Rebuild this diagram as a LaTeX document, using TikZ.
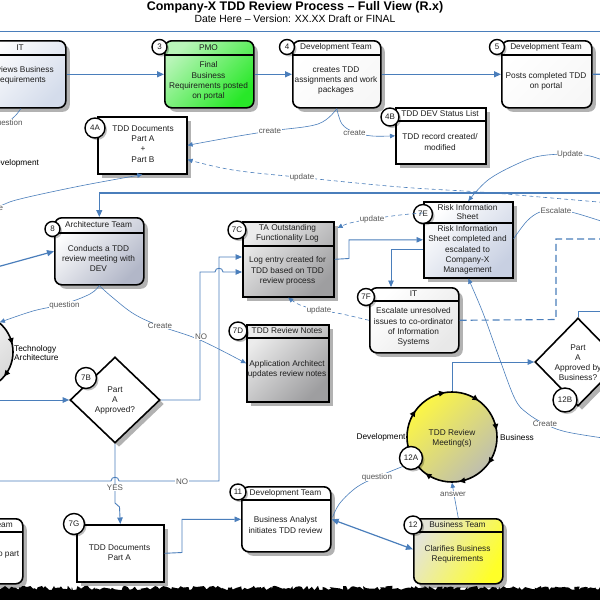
\documentclass[tikz,border=0pt]{standalone}
\usepackage{fontspec}
\setmainfont{Liberation Sans}
\usetikzlibrary{arrows.meta,shapes.geometric,shadows,calc,decorations.pathmorphing}
\definecolor{lb}{RGB}{74,126,187}
\definecolor{lbltxt}{RGB}{85,85,85}
\definecolor{txt}{RGB}{30,30,30}
\definecolor{pgA}{RGB}{185,245,185}
\definecolor{pgB}{RGB}{40,232,40}
\definecolor{itB}{RGB}{212,220,235}
\definecolor{arB}{RGB}{178,183,200}
\definecolor{grA}{RGB}{236,236,236}
\definecolor{grB}{RGB}{158,158,160}
\definecolor{reB}{RGB}{200,208,226}
\definecolor{yeA}{RGB}{228,228,215}
\definecolor{yeB}{RGB}{255,255,40}
\definecolor{meA}{RGB}{252,246,70}
\definecolor{meB}{RGB}{190,190,175}
\tikzset{
  shad/.style={drop shadow={shadow xshift=4pt,shadow yshift=-4pt,fill=black,opacity=.3}},
  rbox/.style={draw=black,line width=1.6pt,rounded corners=7pt,inner sep=0pt,shad},
  sbox/.style={draw=black,line width=1.6pt,inner sep=0pt,shad},
  hline/.style={draw=black,line width=1.2pt},
  bodytxt/.style={align=center,font=\fontsize{8.3}{10.2}\selectfont,text=txt,inner sep=0pt},
  hdrtxt/.style={align=center,font=\fontsize{8.3}{9.6}\selectfont,text=txt,inner sep=0pt},
  numc/.style={circle,draw=black,line width=1.4pt,fill=white,inner sep=0pt,font=\fontsize{8}{8}\selectfont,text=txt,
     drop shadow={shadow xshift=2pt,shadow yshift=-2pt,fill=black,opacity=.25}},
  flow/.style={draw=lb,line width=1.2pt,-{Triangle[length=7pt,width=6pt]}},
  flowline/.style={draw=lb,line width=1.2pt},
  oline/.style={draw=lb,line width=0.9pt},
  oarr/.style={oline,-{Triangle[length=6.5pt,width=5.5pt]}},
  thinl/.style={draw=lb,line width=0.6pt},
  thina/.style={thinl,-{Triangle[length=5pt,width=4.5pt]}},
  dsh/.style={dash pattern=on 4pt off 3pt},
  lbl/.style={font=\fontsize{8}{9}\selectfont,text=lbltxt,fill=white,inner sep=0.6pt},
  circtxt/.style={font=\fontsize{8.3}{9.6}\selectfont,text=black,inner sep=0pt,align=left},
  ctip/.style={draw=black,line width=1.6pt,-{Triangle[length=6pt,width=5.5pt]}},
}
\newcommand\mkbox[8]{%
  \node[#2,minimum width={#5-(#3)},minimum height={#6-(#4)},anchor=north west] (#1) at (#3,#4) {};
  \draw[hline] (#3,{#4+#7}) -- (#5,{#4+#7});
  \node[hdrtxt] (#1h) at ({(#3+#5)/2},{#4+#7/2}) {#8};
}
\begin{document}
\begin{tikzpicture}[x=1pt,y=-1pt]
\useasboundingbox (0,0) rectangle (600,600);
\clip (0,0) rectangle (600,600);
\fill[white] (0,0) rectangle (600,600);

% title
\node[font=\fontsize{12.5}{14}\selectfont\bfseries,inner sep=0pt,text=black] (title) at (295,7) {Company-X TDD Review Process – Full View (R.x)};
\node[font=\fontsize{10.4}{12}\selectfont,inner sep=0pt,text=black] (subtitle) at (295,19) {Date Here – Version: XX.XX Draft or FINAL};
\coordinate (tl) at (-5,31); \coordinate (tr) at (605,31);
\draw[lb,line width=0.7pt] (tl) -- (tr);

% ---------- boxes ----------
\mkbox{it}{rbox,left color=white,right color=itB,shading angle=45}{-25}{40}{65}{107}{15}{IT}
\node[bodytxt] (itb) at (20,75) {Reviews Business\\Requirements};

\mkbox{pmo}{rbox,left color=pgA,right color=pgB,shading angle=45}{164}{40}{253}{107}{15}{PMO}
\node[bodytxt] (pmob) at (208.5,81) {Final\\Business\\Requirements posted\\on portal};

\mkbox{dev4}{rbox,left color=white,right color=gray!6,shading angle=45}{292}{40}{380}{107}{15}{Development Team}
\node[bodytxt] (dev4b) at (336,80.5) {creates TDD\\assignments and work\\packages};

\mkbox{dev5}{rbox,left color=white,right color=gray!6,shading angle=45}{501}{40}{591}{107}{15}{Development Team}
\node[bodytxt] (dev5b) at (546,81) {Posts completed TDD\\on portal};

\node[sbox,fill=white,minimum width=89,minimum height=57,anchor=north west] (n4a) at (97,116) {};
\node[bodytxt] (n4ab) at (143,144) {TDD Documents\\Part A\\+\\Part B};

\mkbox{n4b}{sbox,fill=white}{395}{107}{485}{163}{14}{TDD DEV Status List}
\node[bodytxt] (n4bb) at (440,142) {TDD record created/\\modified};

\mkbox{n8}{rbox,left color=white,right color=arB,shading angle=45}{54}{217}{143}{284}{16}{Architecture Team}
\node[bodytxt] (n8b) at (98.5,258.5) {Conducts a TDD\\review meeting with\\DEV};

\mkbox{n7c}{sbox,left color=grA,right color=grB,shading angle=45}{242}{221}{333}{296}{25}{TA Outstanding\\Functionality Log}
\node[bodytxt] (n7cb) at (287.5,271) {Log entry created for\\TDD based on TDD\\review process};

\mkbox{n7d}{sbox,left color=grA,right color=grB,shading angle=45}{246}{324}{328}{401}{14}{TDD Review Notes}
\node[bodytxt] (n7db) at (287,369) {Application Architect\\updates review notes};

\mkbox{n7e}{sbox,left color=white,right color=reB,shading angle=45}{423}{201}{512}{277}{22}{Risk Information\\Sheet}
\node[bodytxt] (n7eb) at (467.5,250) {Risk Information\\Sheet completed and\\escalated to\\Company-X\\Management};

\mkbox{n7f}{rbox,left color=white,right color=gray!18,shading angle=45}{369}{287}{458}{352}{14}{IT}
\node[bodytxt] (n7fb) at (413.5,327) {Escalate unresolved\\issues to co-ordinator\\of Information\\Systems};

\node[sbox,fill=white,minimum width=87,minimum height=57,anchor=north west] (n7g) at (76,524) {};
\node[bodytxt] (n7gb) at (119.5,553) {TDD Documents\\Part A};

\mkbox{n11}{rbox,fill=white}{241}{486}{330}{551}{14}{Development Team}
\node[bodytxt] (n11b) at (285.5,525) {Business Analyst\\initiates TDD review};

\mkbox{n12}{rbox,left color=yeA,right color=yeB,shading angle=60}{413}{518}{502}{583}{14}{Business Team}
\node[bodytxt] (n12b0) at (457.5,554) {Clarifies Business\\Requirements};

\mkbox{nlb}{rbox,fill=white}{-68}{518}{22}{583}{14}{Development Team}
\node[bodytxt,anchor=east] (nlbb) at (19.5,554) {Feedback to part};

% diamonds
\node[diamond,draw=black,line width=1.6pt,fill=white,shad,minimum width=90,minimum height=86,inner sep=0pt] (n7b) at (115,400) {};
\node[bodytxt] (n7bt) at (115,400.5) {Part\\A\\Approved?};
\node[diamond,draw=black,line width=1.6pt,fill=white,shad,minimum width=86,minimum height=88,inner sep=0pt] (n12bd) at (578,362) {};
\node[bodytxt] (n12bt) at (578,362.5) {Part\\A\\Approved by\\Business?};

% meeting circles
\node[circle,minimum size=90,inner sep=0pt,draw=black,line width=1.6pt,left color=meA,right color=meB,shading angle=45] (meet) at (452,437) {};
\foreach \a in {144,99,54,9,-36,-81,-126,-171}
  \draw[ctip] ({452+45*cos(\a+3)},{437-45*sin(\a+3)}) -- ({452+45*cos(\a)},{437-45*sin(\a)});
\node[bodytxt] (meett) at (452,438) {TDD Review\\Meeting(s)};

\node[circle,minimum size=76,inner sep=0pt,draw=black,line width=1.6pt,left color=white,right color=gray!30,shading angle=45] (tac) at (-25,352) {};
\foreach \a in {12,-40}
  \draw[ctip] ({-25+38*cos(\a+4)},{352-38*sin(\a+4)}) -- ({-25+38*cos(\a)},{352-38*sin(\a)});
\node[circtxt,anchor=west] (tact) at (14,353) {Technology\\Architecture};

\node[circtxt] (devl0) at (14.5,163) {Development};
\node[circtxt] (devl) at (381,437) {Development};
\node[circtxt] (busl) at (517,438) {Business};

% number circles
\node[numc,minimum size=15] (c3) at (159.5,47) {3};
\node[numc,minimum size=15] (c4) at (287,47) {4};
\node[numc,minimum size=15] (c5) at (497,47) {5};
\node[numc,minimum size=20] (c4a) at (95,128) {4A};
\node[numc,minimum size=18] (c4b) at (390,117) {4B};
\node[numc,minimum size=15] (c8) at (52.5,229) {8};
\node[numc,minimum size=18] (c7c) at (237,230) {7C};
\node[numc,minimum size=18] (c7d) at (238,331) {7D};
\node[numc,minimum size=19] (c7e) at (423,214) {7E};
\node[numc,minimum size=17] (c7f) at (366,297) {7F};
\node[numc,minimum size=21] (c7b) at (86,378) {7B};
\node[numc,minimum size=21] (c7g) at (74,524) {7G};
\node[numc,minimum size=16] (c11) at (238,492) {11};
\node[numc,minimum size=18] (c12) at (413,525) {12};
\node[numc,minimum size=23] (n12a) at (411,458) {12A};
\node[numc,minimum size=24] (c12b) at (565,400) {12B};

% ---------- free ends ----------
\coordinate (r5) at (610,74);
\coordinate (rUp) at (610,203);
\coordinate (rB) at (610,193);
\coordinate (l8) at (-20,271.7);
\coordinate (l4a) at (-30,218);
\coordinate (lq) at (-20,130);
\coordinate (l7b) at (-10,400);
\coordinate (l481) at (-10,481);
\coordinate (r239) at (610,239);
\coordinate (rEsc) at (610,224);
\coordinate (rUpd) at (610,163);
\coordinate (rCr) at (610,439);
\coordinate (r311) at (610,311);

% ---------- connectors ----------
\draw[flow] (it) -- (pmo);
\draw[flow] (pmo) -- (dev4);
\draw[flow] (dev4) -- (dev5);
\draw[flowline] (dev5.east) -- (r5);

\draw[thina] plot[smooth,tension=0.6] coordinates {(dev4.south) (318,124) (270,131) (233,137) (n4a.east)};
\draw[thina] plot[smooth,tension=0.6] coordinates {(dev4.south) (342,124) (354,132) (372,136) (n4b.west)};
\draw[thina,dsh] plot[smooth,tension=0.6] coordinates {(rUp) (540,197) (480,192) (400,187) (302,177.5) (233,170) ($(n4a.south east)+(0,-15)$)};
\draw[flow] (rB) -| (n8.north);
\draw[flow] (l8) -- (n8.west);
\draw[thina] plot[smooth,tension=0.6] coordinates {(l4a) (0,206) (20,199) (80,186) (n4a.south)};
\draw[thinl] plot[smooth,tension=0.6] coordinates {(it.south) (15,116) (5,123) (lq)};
\draw[thina] plot[smooth,tension=0.6] coordinates {(n8.south) (90,294) (64,304) (33,311) (tac.50)};
\draw[thina] plot[smooth,tension=0.6] coordinates {(n8.south) (112,297) (134,314) (160,326) (200,340) (n7d.west)};

\draw[oarr] (l7b) -- (n7b.west);
\draw[oarr] (n7b.east) -- (200,400) -- (200,272) -- (215,272) .. controls (215,267) and (223,267) .. (223,272) -- ($(n7c.north west)+(0,51)$);
\draw[oarr] (l481) -- (111,481) .. controls (111,476) and (119,476) .. (119,481) -- (219,481) -- (219,257) -- ($(n7c.north west)+(0,36)$);
\draw[oarr] (n7b.south) -- (115,503) -- (119.5,507) -- (n7g.north);
\draw[oarr] (n7g.east) -- (182,552.5) |- (n11.west);

\draw[oarr] (n7c.east) -- (349,258.5) |- (n7e.west);
\draw[oarr] ($(n7e.west)+(0,10)$) -| ($(n7f.north west)+(22,0)$);
\draw[thina,dsh] plot[smooth,tension=0.6] coordinates {(n7f.west) (342,314) (319,310) (300,305) (n7c.south)};
\draw[thina,dsh] plot[smooth,tension=0.6] coordinates {($(n7e.north west)+(0,12)$) (400,215) (372,219) (350,223) ($(n7c.north east)+(3,7)$)};
\draw[lb,line width=1.1pt,dash pattern=on 7pt off 4pt] (n7f.east) -- (556,319.5) |- (r239);
\draw[thinl] plot[smooth,tension=0.6] coordinates {($(n7e.east)+(0,-1)$) (527,221) (540,212) (556,210) (575,213) (rEsc)};
\draw[thina] plot[smooth,tension=0.6] coordinates {(rUpd) (590,156) (570,154) (540,156) (517,164) (488,180) (n7e.north)};
\draw[thina] plot[smooth,tension=0.6] coordinates {(rCr) (567,432) (545,424) (527,413) (515,399) (500,360) (483,313) (n7e.south)};

\draw[oarr] (meet.north) |- (n12bd.west);
\draw[oline] (n12bd.north) -- (578,311) -- (r311);
\draw[thina] plot[smooth,tension=0.6] coordinates {(n12.north) (455,500) (meet.south)};
\draw[thinl] plot[smooth,tension=0.6] coordinates {(n12a.south west) (377,477) (357,487) (340,503) ($(n11.east)+(1,-2)$)};
\draw[flow,{Triangle[length=7pt,width=6pt]}-{Triangle[length=7pt,width=6pt]}] (n11.east) -- ($(n12.west)+(0,-2)$);

% ---------- labels ----------
\node[lbl] (q1) at (7.5,123) {question};
\node[lbl] (cr0) at (-8,208) {create};
\node[lbl] (cr1) at (270,131) {create};
\node[lbl] (cr2) at (354.5,133) {create};
\node[lbl] (up1) at (302,177) {update};
\node[lbl] (up2) at (570,154) {Update};
\node[lbl] (up3) at (372,219) {update};
\node[lbl] (esc) at (556,211) {Escalate};
\node[lbl] (up4) at (319,310) {update};
\node[lbl] (q2) at (64.5,305) {question};
\node[lbl] (cr3) at (160,326) {Create};
\node[lbl] (no1) at (201,337) {NO};
\node[lbl] (cr4) at (545,424) {Create};
\node[lbl] (no2) at (182,481.5) {NO};
\node[lbl] (yes) at (115,488) {YES};
\node[lbl] (q3) at (377,477) {question};
\node[lbl] (ans) at (453,494) {answer};

% torn bottom edge
\pgfmathsetseed{7}
\fill[black] decorate[decoration={random steps,segment length=2.2pt,amplitude=2.2pt}] {(-5,588) -- (605,588)} -- (605,606) -- (-5,606) -- cycle;
\end{tikzpicture}
\end{document}
